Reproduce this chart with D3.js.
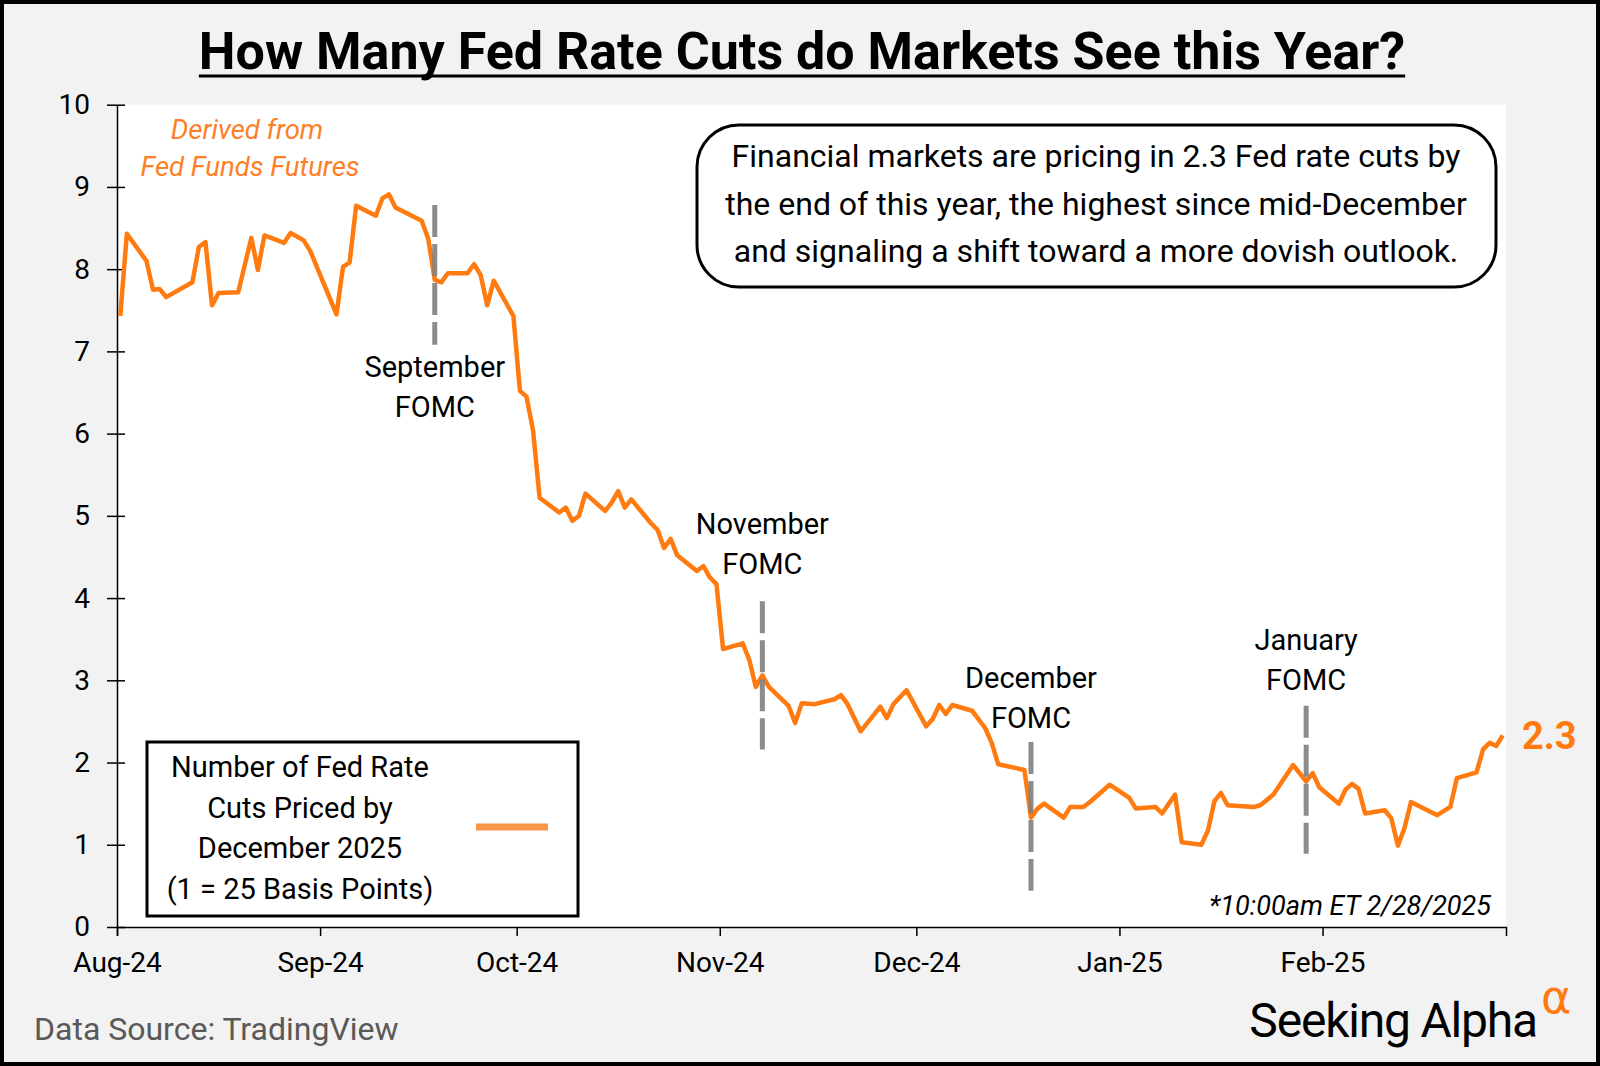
<!DOCTYPE html>
<meta charset="utf-8">
<script src="https://d3js.org/d3.v7.min.js"></script>
<style>
  body { margin: 0; background: #f2f2f2; }
  svg text { font-family: Roboto, sans-serif; }
</style>
<body>
<div id="my_dataviz"></div>
<script>

// data
var dates = [
  "2024-08-01","2024-08-02","2024-08-05","2024-08-06","2024-08-07","2024-08-08","2024-08-12","2024-08-13",
  "2024-08-14","2024-08-15","2024-08-16","2024-08-19","2024-08-21","2024-08-22","2024-08-23","2024-08-26",
  "2024-08-27","2024-08-29","2024-08-30","2024-09-03","2024-09-04","2024-09-05","2024-09-06","2024-09-09",
  "2024-09-10","2024-09-11","2024-09-12","2024-09-16","2024-09-17","2024-09-18","2024-09-19","2024-09-20",
  "2024-09-23","2024-09-24","2024-09-25","2024-09-26","2024-09-27","2024-09-30","2024-10-01","2024-10-02",
  "2024-10-03","2024-10-04","2024-10-07","2024-10-08","2024-10-09","2024-10-10","2024-10-11","2024-10-14",
  "2024-10-15","2024-10-16","2024-10-17","2024-10-18","2024-10-21","2024-10-22","2024-10-23","2024-10-24",
  "2024-10-25","2024-10-28","2024-10-29","2024-10-30","2024-10-31","2024-11-01","2024-11-04","2024-11-05",
  "2024-11-06","2024-11-07","2024-11-08","2024-11-11","2024-11-12","2024-11-13","2024-11-15","2024-11-18",
  "2024-11-19","2024-11-20","2024-11-22","2024-11-25","2024-11-26","2024-11-27","2024-11-29","2024-12-02",
  "2024-12-03","2024-12-04","2024-12-05","2024-12-06","2024-12-09","2024-12-11","2024-12-12","2024-12-13",
  "2024-12-17","2024-12-18","2024-12-19","2024-12-20","2024-12-23","2024-12-24","2024-12-26","2024-12-27",
  "2024-12-30","2025-01-02","2025-01-03","2025-01-06","2025-01-07","2025-01-09","2025-01-10","2025-01-13",
  "2025-01-14","2025-01-15","2025-01-16","2025-01-17","2025-01-21","2025-01-22","2025-01-24","2025-01-27",
  "2025-01-29","2025-01-30","2025-01-31","2025-02-03","2025-02-04","2025-02-05","2025-02-06","2025-02-07",
  "2025-02-10","2025-02-11","2025-02-12","2025-02-13","2025-02-14","2025-02-18","2025-02-20","2025-02-21",
  "2025-02-24","2025-02-25","2025-02-26","2025-02-27","2025-02-28"
];
var cuts = [
  7.43, 8.43, 8.10, 7.75, 7.76, 7.66, 7.84, 8.27,
  8.33, 7.56, 7.71, 7.72, 8.38, 7.99, 8.41, 8.32,
  8.44, 8.35, 8.22, 7.45, 8.03, 8.08, 8.77, 8.65,
  8.86, 8.91, 8.75, 8.59, 8.37, 7.87, 7.84, 7.95,
  7.95, 8.06, 7.93, 7.56, 7.86, 7.43, 6.52, 6.45,
  6.04, 5.22, 5.04, 5.10, 4.94, 5.00, 5.27, 5.06,
  5.16, 5.30, 5.10, 5.20, 4.91, 4.83, 4.61, 4.72,
  4.52, 4.33, 4.39, 4.25, 4.17, 3.38, 3.45, 3.25,
  2.92, 3.06, 2.92, 2.69, 2.48, 2.72, 2.71, 2.77,
  2.82, 2.71, 2.38, 2.68, 2.54, 2.71, 2.88, 2.44,
  2.53, 2.70, 2.59, 2.70, 2.63, 2.42, 2.24, 1.98,
  1.91, 1.33, 1.44, 1.50, 1.33, 1.46, 1.46, 1.52,
  1.73, 1.57, 1.44, 1.46, 1.38, 1.61, 1.03, 1.00,
  1.17, 1.53, 1.63, 1.48, 1.46, 1.48, 1.61, 1.97,
  1.77, 1.87, 1.70, 1.50, 1.67, 1.74, 1.68, 1.38,
  1.42, 1.32, 0.99, 1.20, 1.52, 1.36, 1.46, 1.81,
  1.88, 2.16, 2.24, 2.20, 2.33
];
var yTicks = [0, 1, 2, 3, 4, 5, 6, 7, 8, 9, 10];
var monthTicks = ["2024-08-01","2024-09-01","2024-10-01","2024-11-01","2024-12-01","2025-01-01","2025-02-01"];
var fomcDates = ["2024-09-18","2024-11-07","2024-12-18","2025-01-29"];
var fomcNames = ["September","November","December","January"];
var lastValue = "2.3";

var W = 1600, H = 1066;
var orange = "#ff7b0f";
var parse = d3.timeParse("%Y-%m-%d");
// daily points sit in the middle of their day
var midDay = function(d) { return d3.timeHour.offset(parse(d), 12); };

var data = dates.map(function(d, i) { return {date: midDay(d), value: cuts[i]}; });

var svg = d3.select("#my_dataviz")
  .append("svg")
    .attr("width", W)
    .attr("height", H);

// background + frame
svg.append("rect")
  .attr("x", 2).attr("y", 2).attr("width", W - 4).attr("height", H - 4)
  .attr("fill", "#f2f2f2").attr("stroke", "#000").attr("stroke-width", 4);

var x = d3.scaleTime()
  .domain([parse("2024-08-01"), parse("2025-03-01")])
  .range([117, 1506]);
var y = d3.scaleLinear()
  .domain([0, 10])
  .range([927, 104.7]);

// white plot area
svg.append("rect")
  .attr("x", x.range()[0]).attr("y", y(10))
  .attr("width", x.range()[1] - x.range()[0])
  .attr("height", y(0) - y(10))
  .attr("fill", "#fff");

// title
var title = svg.append("text")
  .attr("x", 802).attr("y", 69)
  .attr("text-anchor", "middle")
  .style("font-size", "52px").style("font-weight", "bold")
  .text("How Many Fed Rate Cuts do Markets See this Year?");
var tw = title.node().getComputedTextLength();
svg.append("rect")
  .attr("x", 802 - tw / 2).attr("y", 74.5)
  .attr("width", tw).attr("height", 3)
  .attr("fill", "#000");

// y axis
var yAxis = svg.append("g")
  .attr("transform", "translate(" + x.range()[0] + ",0)")
  .call(d3.axisLeft(y).tickValues(yTicks).tickSize(10).tickSizeOuter(0).tickPadding(17));
yAxis.selectAll(".tick line").attr("x1", 8).attr("stroke", "#000").attr("stroke-width", 1.5);
yAxis.select(".domain").attr("stroke", "#000").attr("stroke-width", 1.5);
yAxis.selectAll("text").style("font-size", "28px").attr("fill", "#000");

// x axis
var xAxis = svg.append("g")
  .attr("transform", "translate(0," + y(0) + ")")
  .call(d3.axisBottom(x)
    .tickValues(monthTicks.map(parse))
    .tickFormat(d3.timeFormat("%b-%y"))
    .tickSize(9).tickSizeOuter(9).tickPadding(16));
xAxis.selectAll(".tick line").attr("stroke", "#000").attr("stroke-width", 1.5);
xAxis.select(".domain").attr("stroke", "#000").attr("stroke-width", 1.5);
xAxis.selectAll("text").style("font-size", "28px").attr("fill", "#000");

// series line
var line = d3.line()
  .x(function(d) { return x(d.date); })
  .y(function(d) { return y(d.value); });
svg.append("path")
  .datum(data)
  .attr("fill", "none")
  .attr("stroke", orange)
  .attr("stroke-width", 4.5)
  .attr("stroke-linejoin", "round")
  .attr("d", line);

// FOMC markers: dash top/bottom in chart units, label baseline
var fomcLayout = [
  {top: 8.78, bottom: 7.08, labelY: 377},
  {top: 3.96, bottom: 2.16, labelY: 534},
  {top: 2.25, bottom: 0.44, labelY: 688},
  {top: 2.69, bottom: 0.89, labelY: 650}
];
fomcDates.forEach(function(d, i) {
  var fx = x(midDay(d)), L = fomcLayout[i];
  svg.append("line")
    .attr("x1", fx).attr("x2", fx)
    .attr("y1", y(L.top)).attr("y2", y(L.bottom))
    .attr("stroke", "#7f7f7f").attr("stroke-opacity", 0.9)
    .attr("stroke-width", 5)
    .attr("stroke-dasharray", "32,7");
  var t = svg.append("text")
    .attr("x", fx).attr("y", L.labelY)
    .attr("text-anchor", "middle")
    .style("font-size", "29px").attr("fill", "#000");
  t.append("tspan").attr("x", fx).text(fomcNames[i]);
  t.append("tspan").attr("x", fx).attr("dy", 40).text("FOMC");
});

// source note
var note = svg.append("text")
  .attr("x", 247).attr("y", 139)
  .attr("text-anchor", "middle")
  .style("font-size", "27.5px").style("font-style", "italic")
  .attr("fill", "#ff7f27");
note.append("tspan").attr("x", 247).text("Derived from");
note.append("tspan").attr("x", 250).attr("dy", 37).text("Fed Funds Futures");

// annotation box
svg.append("rect")
  .attr("x", 697).attr("y", 125)
  .attr("width", 799).attr("height", 162)
  .attr("rx", 42).attr("ry", 42)
  .attr("fill", "#fff").attr("stroke", "#000").attr("stroke-width", 3);
var boxLines = [
  "Financial markets are pricing in 2.3 Fed rate cuts by",
  "the end of this year, the highest since mid-December",
  "and signaling a shift toward a more dovish outlook."
];
boxLines.forEach(function(s, i) {
  svg.append("text")
    .attr("x", 1096).attr("y", 167 + i * 47.5)
    .attr("text-anchor", "middle")
    .style("font-size", "32px").attr("fill", "#000")
    .text(s);
});

// legend
svg.append("rect")
  .attr("x", 147).attr("y", 742)
  .attr("width", 431).attr("height", 174)
  .attr("fill", "#fff").attr("stroke", "#000").attr("stroke-width", 3);
var legendLines = ["Number of Fed Rate", "Cuts Priced by", "December 2025", "(1 = 25 Basis Points)"];
legendLines.forEach(function(s, i) {
  svg.append("text")
    .attr("x", 300).attr("y", 777 + i * 40.5)
    .attr("text-anchor", "middle")
    .style("font-size", "29px").attr("fill", "#000")
    .text(s);
});
svg.append("line")
  .attr("x1", 476).attr("x2", 548)
  .attr("y1", 827).attr("y2", 827)
  .attr("stroke", "#f79646").attr("stroke-width", 7);

// end value label
var last = data[data.length - 1];
svg.append("text")
  .attr("x", 1522).attr("y", y(last.value) + 14)
  .style("font-size", "38px").style("font-weight", "bold")
  .attr("fill", orange)
  .text(lastValue);

// timestamp
svg.append("text")
  .attr("x", 1491).attr("y", 915)
  .attr("text-anchor", "end")
  .style("font-size", "27px").style("font-style", "italic")
  .attr("fill", "#000")
  .text("*10:00am ET 2/28/2025");

// footer
svg.append("text")
  .attr("x", 34).attr("y", 1040)
  .style("font-size", "32px").attr("fill", "#595959")
  .text("Data Source: TradingView");
svg.append("text")
  .attr("x", 1537).attr("y", 1037)
  .attr("text-anchor", "end")
  .style("font-size", "48px").style("letter-spacing", "-1.2px")
  .attr("fill", "#000")
  .text("Seeking Alpha");
svg.append("text")
  .attr("x", 1541).attr("y", 1013)
  .style("font-size", "46px").style("font-family", "'DejaVu Sans', sans-serif")
  .attr("fill", orange)
  .text("\u03b1");

</script>
</body>
